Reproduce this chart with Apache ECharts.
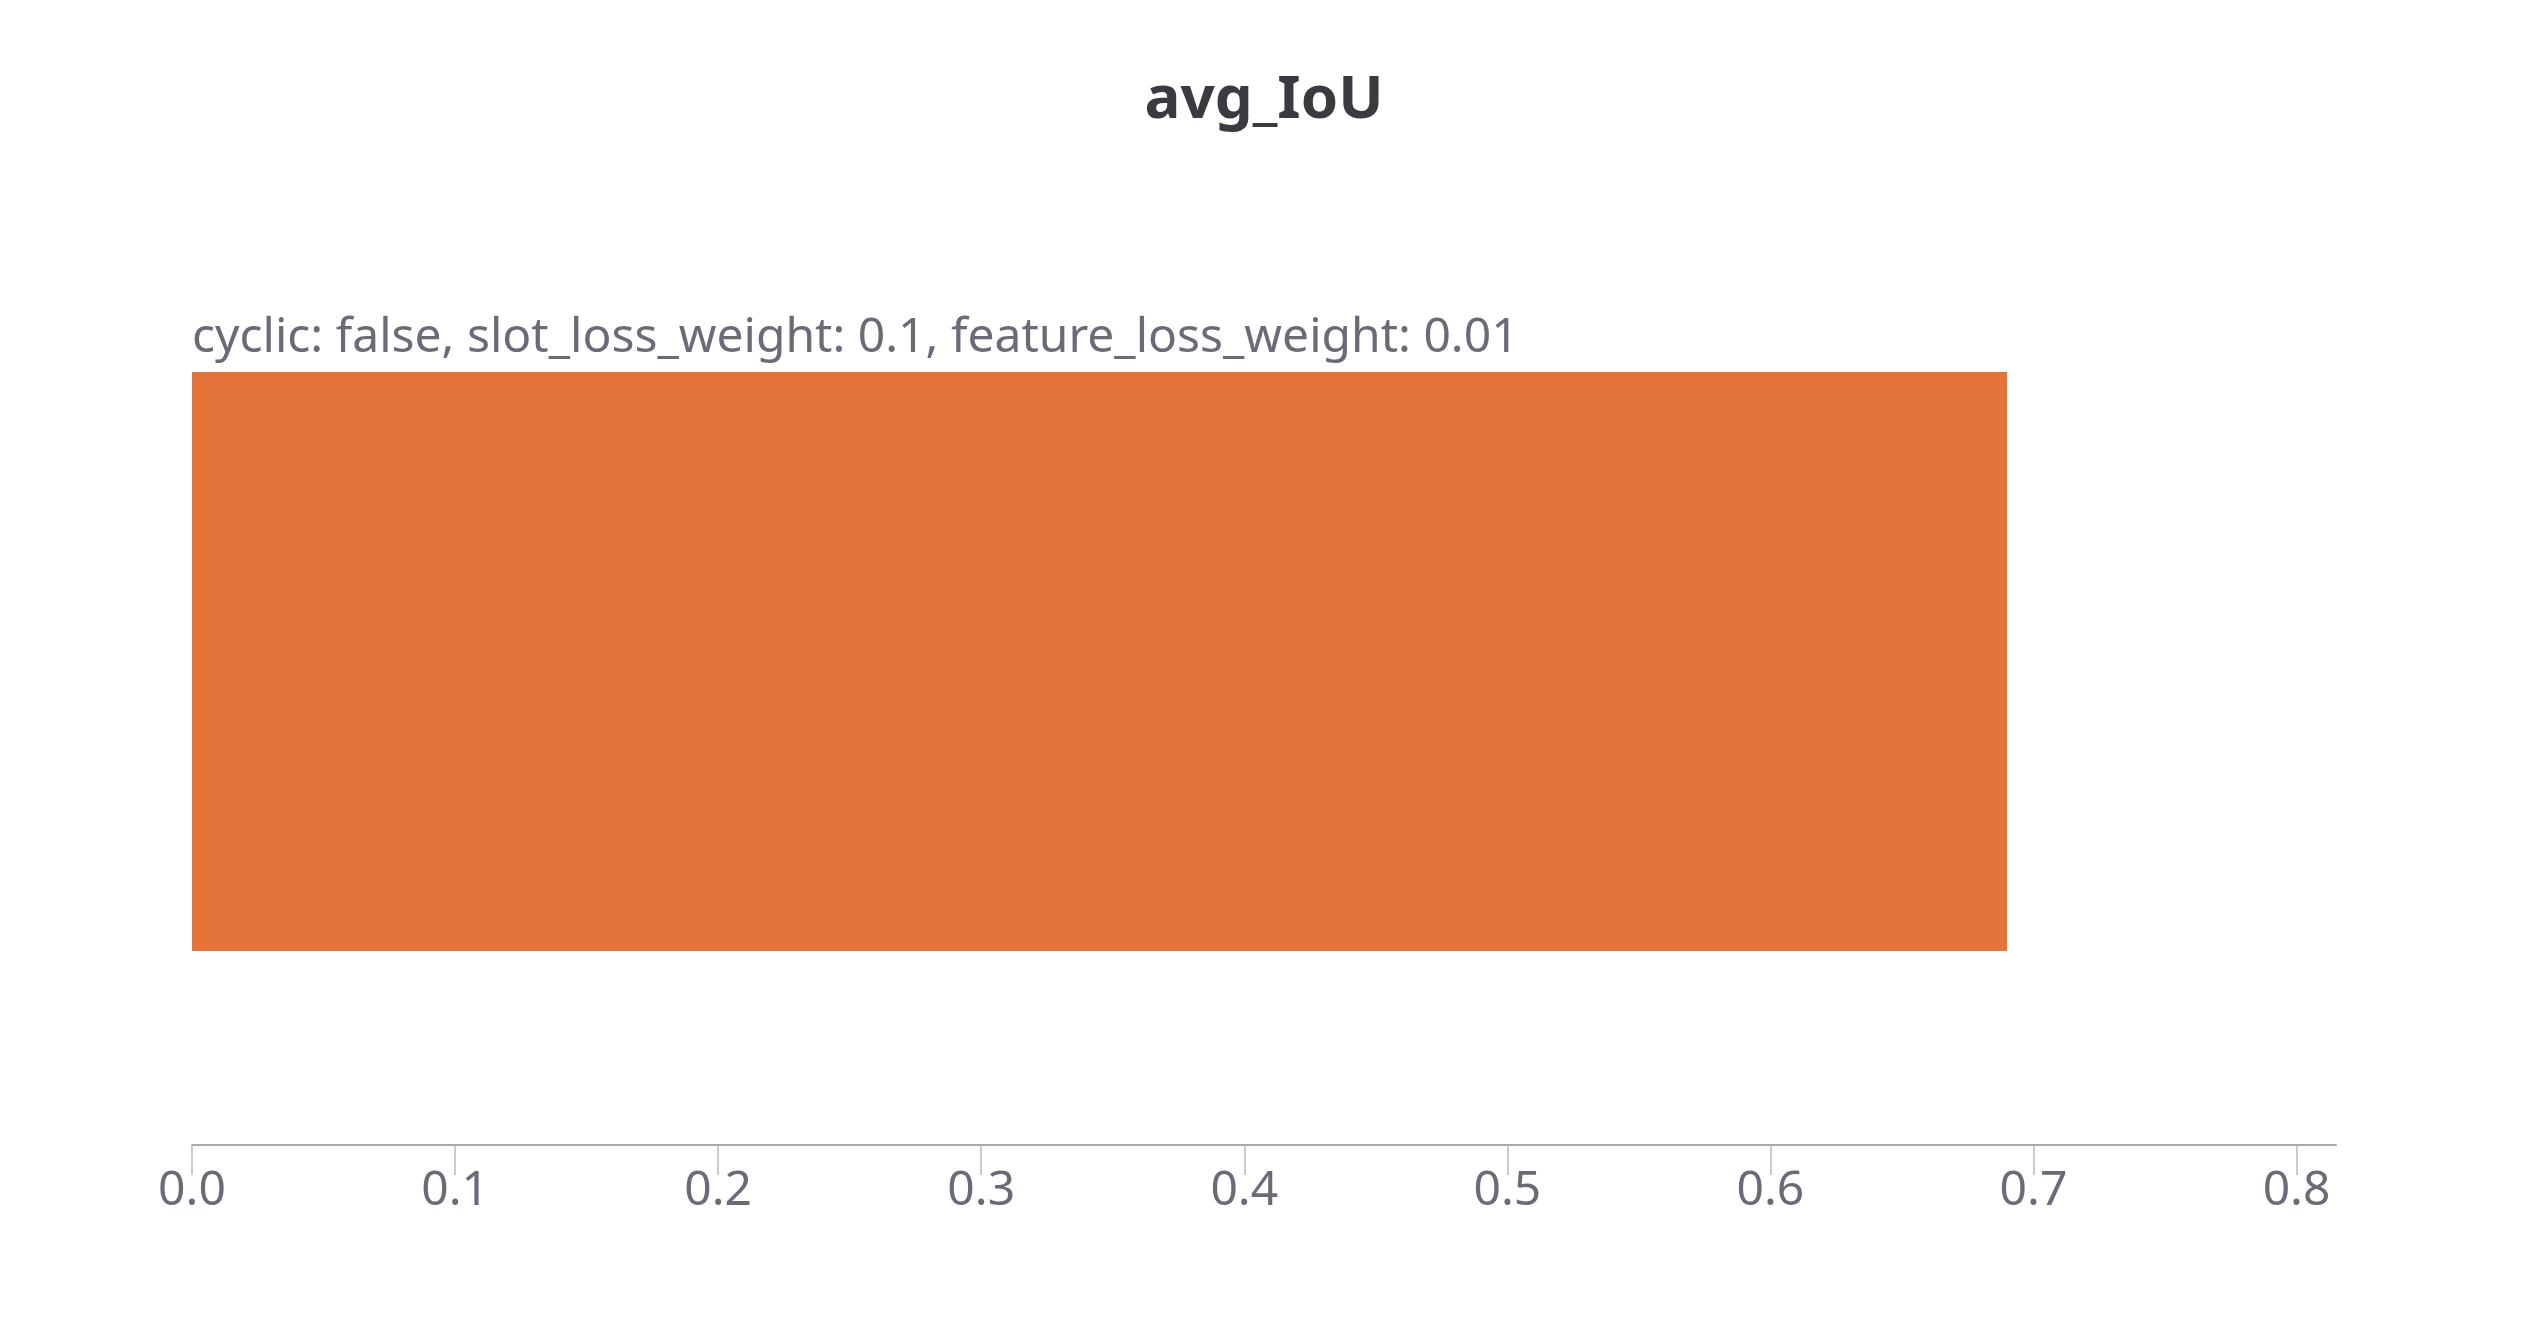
<!DOCTYPE html>
<html><head><meta charset="utf-8">
<script src="https://cdn.jsdelivr.net/npm/echarts@6/dist/echarts.min.js"></script>
<style>html,body{margin:0;padding:0;background:#fff}#c{width:2528px;height:1328px}</style>
</head><body><div id="c"></div>
<script>
const categories = ['cyclic: false, slot_loss_weight: 0.1, feature_loss_weight: 0.01'];
const values = [0.690];
const tickLabels = ['0.0','0.1','0.2','0.3','0.4','0.5','0.6','0.7','0.8'];
const chart = echarts.init(document.getElementById('c'));
chart.setOption({
  animation:false,
  title:{text:'avg_IoU',left:'center',top:66,textStyle:{fontFamily:'Source Sans Pro, Noto Sans',fontSize:60,fontWeight:'bold',color:'#3a3a40'}},
  grid:{left:192,right:192,top:178,bottom:1328-1145},
  xAxis:{type:'value',min:0,max:0.815,interval:0.1,
    axisLine:{show:true,lineStyle:{color:'#aaaaaa',width:2}},
    axisTick:{show:true,length:30,lineStyle:{color:'#bbbbbb',width:1.5}},
    splitLine:{show:false},
    axisLabel:{margin:22,fontSize:48,color:'#6b6b78',fontFamily:'Source Sans Pro, Noto Sans',
      formatter:v=>tickLabels[Math.round(v*10)] ?? ''}},
  yAxis:{type:'category',data:categories,axisLine:{show:false},axisTick:{show:false},axisLabel:{show:false}},
  series:[{type:'bar',data:values,barWidth:579,itemStyle:{color:'#e5743a'},
    label:{show:true,position:[0,-10],align:'left',verticalAlign:'bottom',
      formatter:p=>p.name,fontSize:48,color:'#6b6b78',fontFamily:'Source Sans Pro, Noto Sans'}}]
});
</script></body></html>
